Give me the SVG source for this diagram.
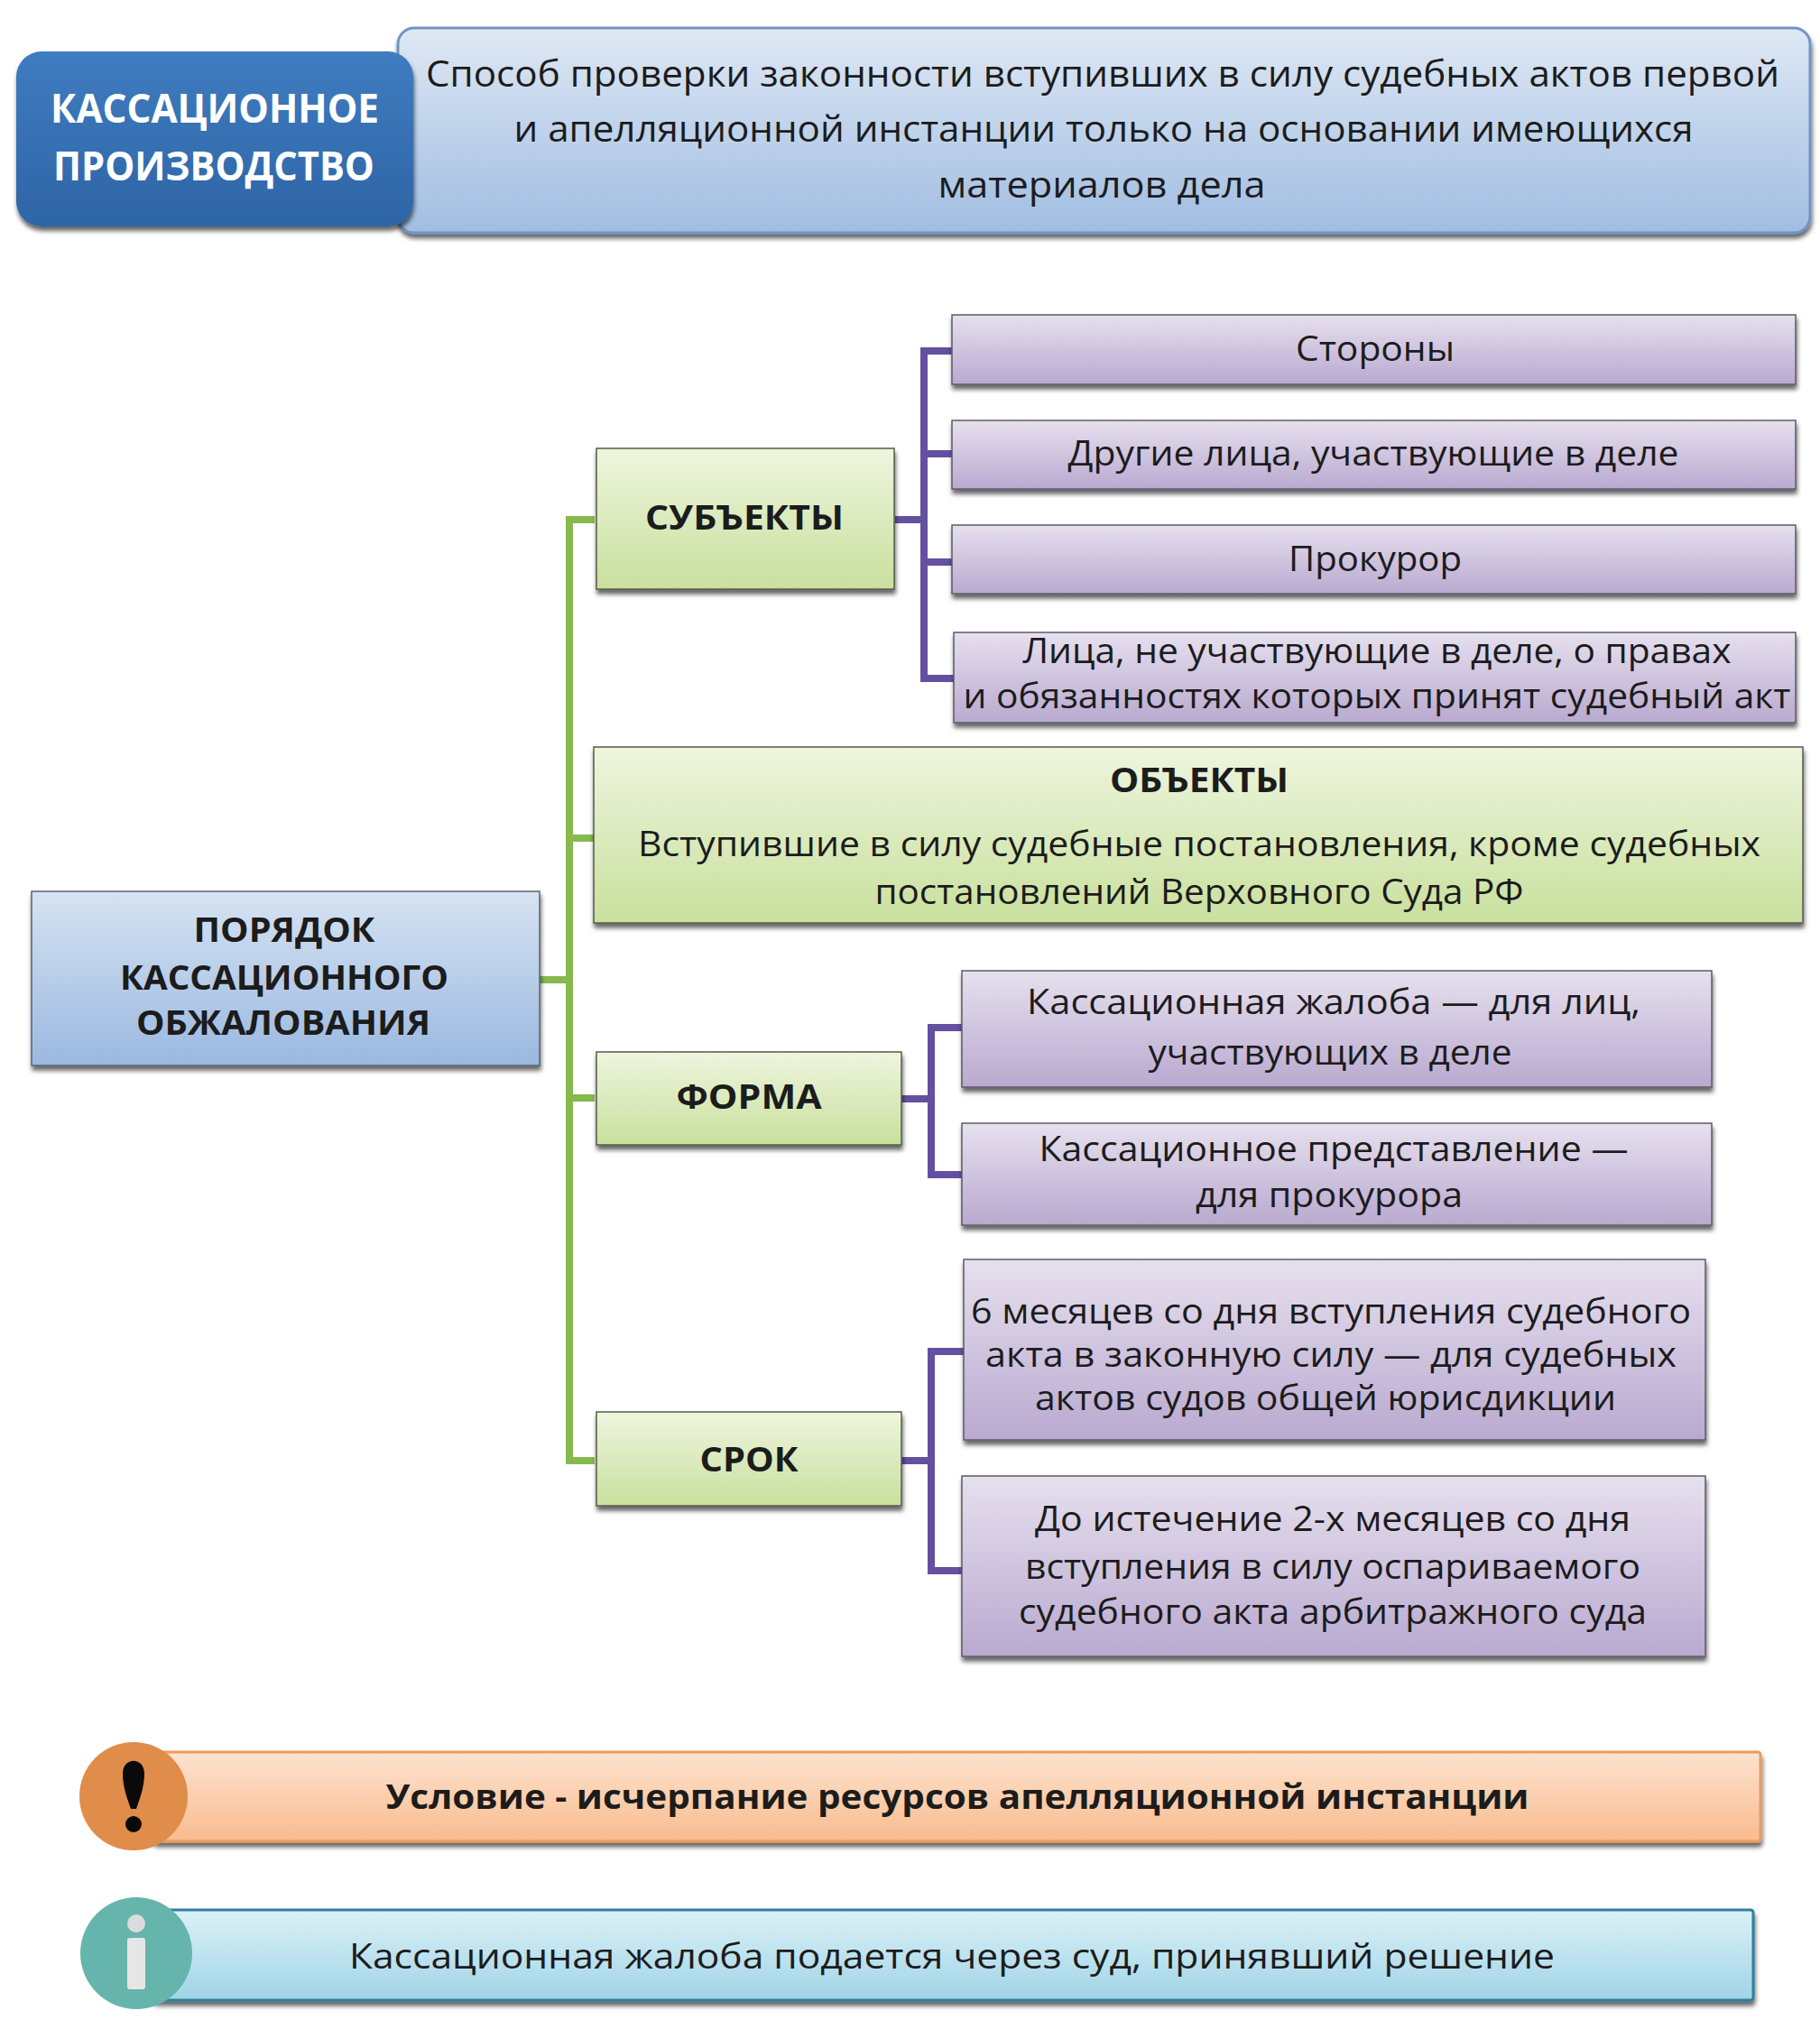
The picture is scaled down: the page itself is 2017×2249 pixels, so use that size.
<svg xmlns="http://www.w3.org/2000/svg" width="2017" height="2249" viewBox="0 0 2017 2249">
<style>
text{font-family:"Open Sans","Noto Sans","Liberation Sans",sans-serif;text-anchor:middle;fill:#1c1c1c;font-size:38px}
.b{font-weight:700}
.big{font-size:40px}
.wh{fill:#fff;font-weight:700;font-size:44px}
.sh{filter:url(#shadow)}
.pur{fill:url(#gPur);stroke:#5c5c68;stroke-width:1.5}
.grn{fill:url(#gGrn);stroke:#555b4a;stroke-width:1.5}
.blu{fill:url(#gBlu);stroke:#5a6474;stroke-width:1.5}
.c1{fill:none;stroke:#86b94e;stroke-width:8}
.c2{fill:none;stroke:#6450a0;stroke-width:8}
</style>
<defs>
<filter id="shadow" x="-5%" y="-10%" width="110%" height="130%"><feDropShadow dx="1" dy="5" stdDeviation="2.5" flood-color="#000" flood-opacity="0.6"/></filter>
<linearGradient id="gDark" x1="0" y1="0" x2="0" y2="1"><stop offset="0" stop-color="#3f7cc0"/><stop offset="1" stop-color="#2e65a6"/></linearGradient>
<linearGradient id="gLight" x1="0" y1="0" x2="0" y2="1"><stop offset="0" stop-color="#dfe8f4"/><stop offset="1" stop-color="#a0bde2"/></linearGradient>
<linearGradient id="gPur" x1="0" y1="0" x2="0" y2="1"><stop offset="0" stop-color="#e6e0ee"/><stop offset="1" stop-color="#b9a9d0"/></linearGradient>
<linearGradient id="gGrn" x1="0" y1="0" x2="0" y2="1"><stop offset="0" stop-color="#eef5de"/><stop offset="1" stop-color="#c9e09d"/></linearGradient>
<linearGradient id="gBlu" x1="0" y1="0" x2="0" y2="1"><stop offset="0" stop-color="#d6e3f2"/><stop offset="1" stop-color="#9ab8e0"/></linearGradient>
<linearGradient id="gOr" x1="0" y1="0" x2="0" y2="1"><stop offset="0" stop-color="#fde3cf"/><stop offset="1" stop-color="#f9bb8e"/></linearGradient>
<linearGradient id="gCy" x1="0" y1="0" x2="0" y2="1"><stop offset="0" stop-color="#dcf1f7"/><stop offset="1" stop-color="#a0d4e7"/></linearGradient>
</defs>
<g id="connectors">
<path class="c1" d="M598 1086H631M659 576H631V1619H659M631 929H659M631 1217H659"/>
<path class="c2" d="M992 576H1024"/>
<path class="c2" d="M1055 389H1024V752H1057M1024 503H1055M1024 623H1055"/>
<path class="c2" d="M999 1218H1032M1066 1139H1032V1302H1066"/>
<path class="c2" d="M999 1619H1032M1068 1498H1032V1741H1066"/>
</g>
<g id="definition"><rect class="sh" x="441" y="31" width="1565" height="227" rx="18" fill="url(#gLight)" stroke="#6f94c6" stroke-width="3"/>
<text class="big" x="1222" y="96" textLength="1500" lengthAdjust="spacingAndGlyphs">Способ проверки законности вступивших в силу судебных актов первой</text>
<text class="big" x="1223" y="157" textLength="1307" lengthAdjust="spacingAndGlyphs">и апелляционной инстанции только на основании имеющихся</text>
<text class="big" x="1221" y="219" textLength="363" lengthAdjust="spacingAndGlyphs">материалов дела</text></g>
<g id="title"><rect class="sh" x="18" y="57" width="440" height="194" rx="28" fill="url(#gDark)"/>
<text class="wh" x="238" y="136" textLength="364" lengthAdjust="spacingAndGlyphs">КАССАЦИОННОЕ</text>
<text class="wh" x="237" y="200" textLength="356" lengthAdjust="spacingAndGlyphs">ПРОИЗВОДСТВО</text></g>
<g id="order"><rect class="blu sh" x="35" y="988" width="563" height="193"/>
<text class="b" x="315" y="1044" textLength="201" lengthAdjust="spacingAndGlyphs">ПОРЯДОК</text>
<text class="b" x="315" y="1097" textLength="364" lengthAdjust="spacingAndGlyphs">КАССАЦИОННОГО</text>
<text class="b" x="314" y="1147" textLength="326" lengthAdjust="spacingAndGlyphs">ОБЖАЛОВАНИЯ</text></g>
<g id="subjects"><rect class="grn sh" x="661" y="497" width="330" height="156"/>
<text class="b" x="825" y="587" textLength="220" lengthAdjust="spacingAndGlyphs">СУБЪЕКТЫ</text></g>
<g id="s1"><rect class="pur sh" x="1055" y="349" width="935" height="77"/><text x="1524" y="400" textLength="176" lengthAdjust="spacingAndGlyphs">Стороны</text></g>
<g id="s2"><rect class="pur sh" x="1055" y="466" width="935" height="76"/><text x="1522" y="516" textLength="677" lengthAdjust="spacingAndGlyphs">Другие лица, участвующие в деле</text></g>
<g id="s3"><rect class="pur sh" x="1055" y="582" width="935" height="76"/><text x="1524" y="633" textLength="192" lengthAdjust="spacingAndGlyphs">Прокурор</text></g>
<g id="s4"><rect class="pur sh" x="1057" y="701" width="933" height="100"/>
<text x="1526" y="735" textLength="785" lengthAdjust="spacingAndGlyphs">Лица, не участвующие в деле, о правах</text>
<text x="1526" y="785" textLength="917" lengthAdjust="spacingAndGlyphs">и обязанностях которых принят судебный акт</text></g>
<g id="objects"><rect class="grn sh" x="658" y="828" width="1340" height="195"/>
<text class="b" x="1329" y="878" textLength="198" lengthAdjust="spacingAndGlyphs">ОБЪЕКТЫ</text>
<text x="1329" y="949" textLength="1244" lengthAdjust="spacingAndGlyphs">Вступившие в силу судебные постановления, кроме судебных</text>
<text x="1329" y="1002" textLength="719" lengthAdjust="spacingAndGlyphs">постановлений Верховного Суда РФ</text></g>
<g id="form"><rect class="grn sh" x="661" y="1166" width="338" height="103"/>
<text class="b" x="830" y="1229" textLength="161" lengthAdjust="spacingAndGlyphs">ФОРМА</text></g>
<g id="f1"><rect class="pur sh" x="1066" y="1076" width="831" height="129"/>
<text x="1478" y="1124" textLength="680" lengthAdjust="spacingAndGlyphs">Кассационная жалоба — для лиц,</text>
<text x="1474" y="1180" textLength="403" lengthAdjust="spacingAndGlyphs">участвующих в деле</text></g>
<g id="f2"><rect class="pur sh" x="1066" y="1245" width="831" height="113"/>
<text x="1478" y="1287" textLength="653" lengthAdjust="spacingAndGlyphs">Кассационное представление —</text>
<text x="1473" y="1338" textLength="296" lengthAdjust="spacingAndGlyphs">для прокурора</text></g>
<g id="term"><rect class="grn sh" x="661" y="1565" width="338" height="104"/>
<text class="b" x="830" y="1631" textLength="109" lengthAdjust="spacingAndGlyphs">СРОК</text></g>
<g id="t1"><rect class="pur sh" x="1068" y="1396" width="822" height="200"/>
<text x="1475" y="1467" textLength="798" lengthAdjust="spacingAndGlyphs">6 месяцев со дня вступления судебного</text>
<text x="1475" y="1515" textLength="766" lengthAdjust="spacingAndGlyphs">акта в законную силу — для судебных</text>
<text x="1469" y="1563" textLength="644" lengthAdjust="spacingAndGlyphs">актов судов общей юрисдикции</text></g>
<g id="t2"><rect class="pur sh" x="1066" y="1636" width="824" height="200"/>
<text x="1477" y="1697" textLength="660" lengthAdjust="spacingAndGlyphs">До истечение 2-х месяцев со дня</text>
<text x="1477" y="1750" textLength="682" lengthAdjust="spacingAndGlyphs">вступления в силу оспариваемого</text>
<text x="1477" y="1800" textLength="696" lengthAdjust="spacingAndGlyphs">судебного акта арбитражного суда</text></g>
<g id="condition"><rect class="sh" x="170" y="1942" width="1781" height="99" fill="url(#gOr)" stroke="#ec9a5c" stroke-width="3" rx="3"/>
<circle cx="148" cy="1991" r="60" fill="#e08c4a"/>
<path d="M136 1966C136 1947 160 1947 160 1966C160 1982 154 1996 151 2005H145C142 1996 136 1982 136 1966Z" fill="#0a0a0a"/>
<circle cx="148" cy="2022" r="9" fill="#0a0a0a"/>
<text class="b" x="1061" y="2005" textLength="1267" lengthAdjust="spacingAndGlyphs">Условие - исчерпание ресурсов апелляционной инстанции</text></g>
<g id="note"><rect class="sh" x="170" y="2117" width="1773" height="100" fill="url(#gCy)" stroke="#2f7f9f" stroke-width="3" rx="3"/>
<circle cx="151" cy="2165" r="62" fill="#66b5ac"/>
<circle cx="151" cy="2132" r="10" fill="#dcdcdc"/>
<rect x="141" y="2148" width="20" height="57" rx="3" fill="#e6e6e6"/>
<text x="1055" y="2182" textLength="1336" lengthAdjust="spacingAndGlyphs">Кассационная жалоба подается через суд, принявший решение</text></g>
</svg>
